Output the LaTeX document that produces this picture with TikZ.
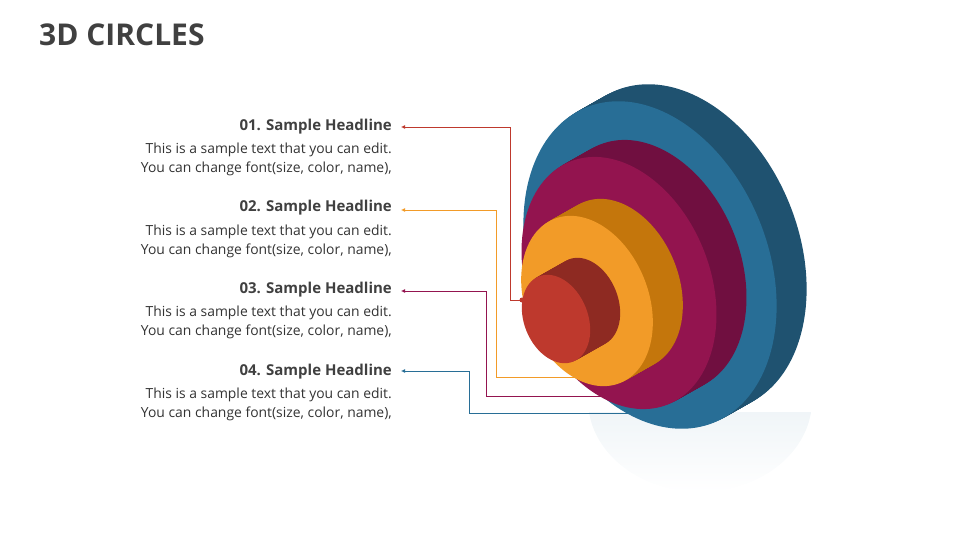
\documentclass[tikz,border=0pt]{standalone}
\usepackage{fontspec}
\setmainfont{Open Sans}
\usetikzlibrary{arrows.meta}
\begin{document}
\begin{tikzpicture}[x=1pt,y=-1pt,
  head/.style={anchor=east,font=\bfseries\fontsize{15}{18}\selectfont,text=black!75,inner sep=0},
  body/.style={anchor=east,font=\fontsize{13.9}{19}\selectfont,text=black!80,inner sep=0,align=right},
  conn/.style={line width=0.8pt,-{Latex[length=4pt,width=4pt]}}]
\useasboundingbox (0,0) rectangle (960,540);
\definecolor{bluef}{HTML}{286E96}\definecolor{blueb}{HTML}{1F5270}
\definecolor{magf}{HTML}{93144F}\definecolor{magb}{HTML}{700F40}
\definecolor{oraf}{HTML}{F29B28}\definecolor{orab}{HTML}{C4760C}
\definecolor{redf}{HTML}{BE392D}\definecolor{redb}{HTML}{8E2A22}
\node[anchor=west,font=\bfseries\fontsize{30}{34}\selectfont,text=black!75,inner sep=0] (title) at (39,35) {3D CIRCLES};
% reflection
\begin{scope}
\clip (580,412) rectangle (820,495);
\shade[top color=bluef!40,bottom color=white,middle color=bluef!8] (700,400) ellipse[x radius=112, y radius=92];
\end{scope}
% layers
\foreach \cx/\cy/\s/\fc/\bc in {650/265/1/bluef/blueb, 619/283/0.77/magf/magb, 587/301/0.52/oraf/orab, 556/319/0.27/redf/redb}{
  \foreach \t in {1,0.95,...,0}{
    \fill[\bc] (\cx+30*\t,\cy-17*\t) ellipse[x radius=118*\s, y radius=170*\s, rotate=22];
  }
  \fill[\fc] (\cx,\cy) ellipse[x radius=118*\s, y radius=170*\s, rotate=22];
}
% texts
\node[head] (h1) at (392,127) {01. Sample Headline};
\node[body] (b1) at (392,159.5) {This is a sample text that you can edit.\\You can change font(size, color, name),};
\node[head] (h2) at (392,208) {02. Sample Headline};
\node[body] (b2) at (392,241.5) {This is a sample text that you can edit.\\You can change font(size, color, name),};
\node[head] (h3) at (392,290) {03. Sample Headline};
\node[body] (b3) at (392,322.5) {This is a sample text that you can edit.\\You can change font(size, color, name),};
\node[head] (h4) at (392,372) {04. Sample Headline};
\node[body] (b4) at (392,404.5) {This is a sample text that you can edit.\\You can change font(size, color, name),};
% connectors
\coordinate (e1) at (522,300); \coordinate (e2) at (588,377);
\coordinate (e3) at (620,396); \coordinate (e4) at (650,413);
\coordinate (a1) at (401,127); \coordinate (a2) at (401,210);
\coordinate (a3) at (401,291); \coordinate (a4) at (401,371);
\draw[conn,redf] (e1) -| (510,127) -- (a1);
\draw[conn,oraf] (e2) -| (496,210) -- (a2);
\draw[conn,magf] (e3) -| (486,291) -- (a3);
\draw[conn,bluef] (e4) -| (469,371) -- (a4);
\foreach \i/\c in {1/redf,2/oraf,3/magf,4/bluef}{\fill[\c] (e\i) circle (2.5);}
\end{tikzpicture}
\end{document}
